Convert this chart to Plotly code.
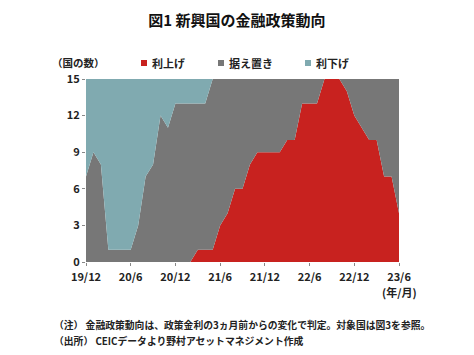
import plotly.graph_objects as go

# Months 2019/12 .. 2023/6
months = ["19/12", "20/1", "20/2", "20/3", "20/4", "20/5", "20/6", "20/7", "20/8", "20/9",
          "20/10", "20/11", "20/12", "21/1", "21/2", "21/3", "21/4", "21/5", "21/6", "21/7",
          "21/8", "21/9", "21/10", "21/11", "21/12", "22/1", "22/2", "22/3", "22/4", "22/5",
          "22/6", "22/7", "22/8", "22/9", "22/10", "22/11", "22/12", "23/1", "23/2", "23/3",
          "23/4", "23/5", "23/6"]

hike = [0, 0, 0, 0, 0, 0, 0, 0, 0, 0, 0, 0, 0, 0, 0, 1, 1, 1, 3, 4,
        6, 6, 8, 9, 9, 9, 9, 10, 10, 13, 13, 13, 15, 15, 15, 14, 12, 11, 10, 10,
        7, 7, 4]
hike_plus_hold = [7, 9, 8, 1, 1, 1, 1, 3, 7, 8, 12, 11, 13, 13, 13, 13, 13, 15, 15, 15,
                  15, 15, 15, 15, 15, 15, 15, 15, 15, 15, 15, 15, 15, 15, 15, 15, 15, 15, 15, 15,
                  15, 15, 15]
total_countries = 15
hold = [t - h for t, h in zip(hike_plus_hold, hike)]
cut = [total_countries - t for t in hike_plus_hold]

tick_labels = ["19/12", "20/6", "20/12", "21/6", "21/12", "22/6", "22/12", "23/6"]
y_ticks = [0, 3, 6, 9, 12, 15]

series_names = ["利上げ", "据え置き", "利下げ"]
colors = ["#C8221F", "#777777", "#80AAB0"]

x = list(range(len(months)))
tickvals = [months.index(t) for t in tick_labels]

FONT = "Noto Sans CJK JP"

# plot area in pixels
L, R, T, B = 86, 399, 79, 262
PW, PH = R - L, B - T


def px(v):
    return (v - L) / PW


def py(v):
    return (B - v) / PH


fig = go.Figure()
for name, vals, col in zip(series_names, [hike, hold, cut], colors):
    fig.add_trace(go.Scatter(x=x, y=vals, mode="lines", stackgroup="one",
                             line=dict(width=0, color=col), fillcolor=col,
                             name=name, showlegend=False, hoverinfo="skip"))

# legend drawn as squares + labels (positions in pixels)
legend_sq_x = [144, 221, 308]
legend_y = 63
shapes = []
annotations = []
for name, col, sx in zip(series_names, colors, legend_sq_x):
    shapes.append(dict(type="rect", xref="paper", yref="paper",
                       x0=px(sx - 3), x1=px(sx + 3), y0=py(legend_y + 3), y1=py(legend_y - 3),
                       fillcolor=col, line=dict(width=0)))
    annotations.append(dict(text="<b>" + name + "</b>", xref="paper", yref="paper",
                            x=px(sx + 6), y=py(legend_y), xanchor="left", yanchor="middle",
                            showarrow=False, font=dict(size=11, color="#222222")))

annotations += [
    dict(text="<b>（国の数）</b>", xref="paper", yref="paper", x=px(78), y=py(63),
         xanchor="center", yanchor="middle", showarrow=False, font=dict(size=10.5)),
    dict(text="<b>(年/月)</b>", xref="paper", yref="paper", x=px(399), y=py(292),
         xanchor="center", yanchor="middle", showarrow=False, font=dict(size=11)),
    dict(text="<b>（注） 金融政策動向は、政策金利の3ヵ月前からの変化で判定。対象国は図3を参照。</b>",
         xref="paper", yref="paper", x=px(52), y=py(325),
         xanchor="left", yanchor="middle", showarrow=False, font=dict(size=9.8)),
    dict(text="<b>（出所） CEICデータより野村アセットマネジメント作成</b>",
         xref="paper", yref="paper", x=px(52), y=py(341),
         xanchor="left", yanchor="middle", showarrow=False, font=dict(size=9.8)),
]

fig.update_layout(
    width=474, height=355,
    margin=dict(l=L, r=474 - R, t=T, b=355 - B),
    paper_bgcolor="white", plot_bgcolor="white",
    font=dict(family=FONT, size=11, color="#222222"),
    title=dict(text="<b>図1 新興国の金融政策動向</b>", x=0.5, xanchor="center",
               y=1 - 21 / 355, yanchor="middle", font=dict(size=15, family=FONT, color="#111111")),
    showlegend=False,
    xaxis=dict(range=[0, len(months) - 1], tickvals=tickvals, ticktext=tick_labels,
               showgrid=False, zeroline=False, showline=False,
               ticks="outside", ticklen=3, tickcolor="#888888", ticklabelstandoff=2,
               tickfont=dict(size=11, family=FONT, color="#222222", weight="bold")),
    yaxis=dict(range=[0, 15], tickvals=y_ticks, showgrid=False, zeroline=False,
               showline=False, ticks="outside", ticklen=3, tickcolor="#888888",
               tickfont=dict(size=11, family=FONT, color="#222222", weight="bold")),
    shapes=shapes,
    annotations=annotations,
)

fig.write_html("out.html")
